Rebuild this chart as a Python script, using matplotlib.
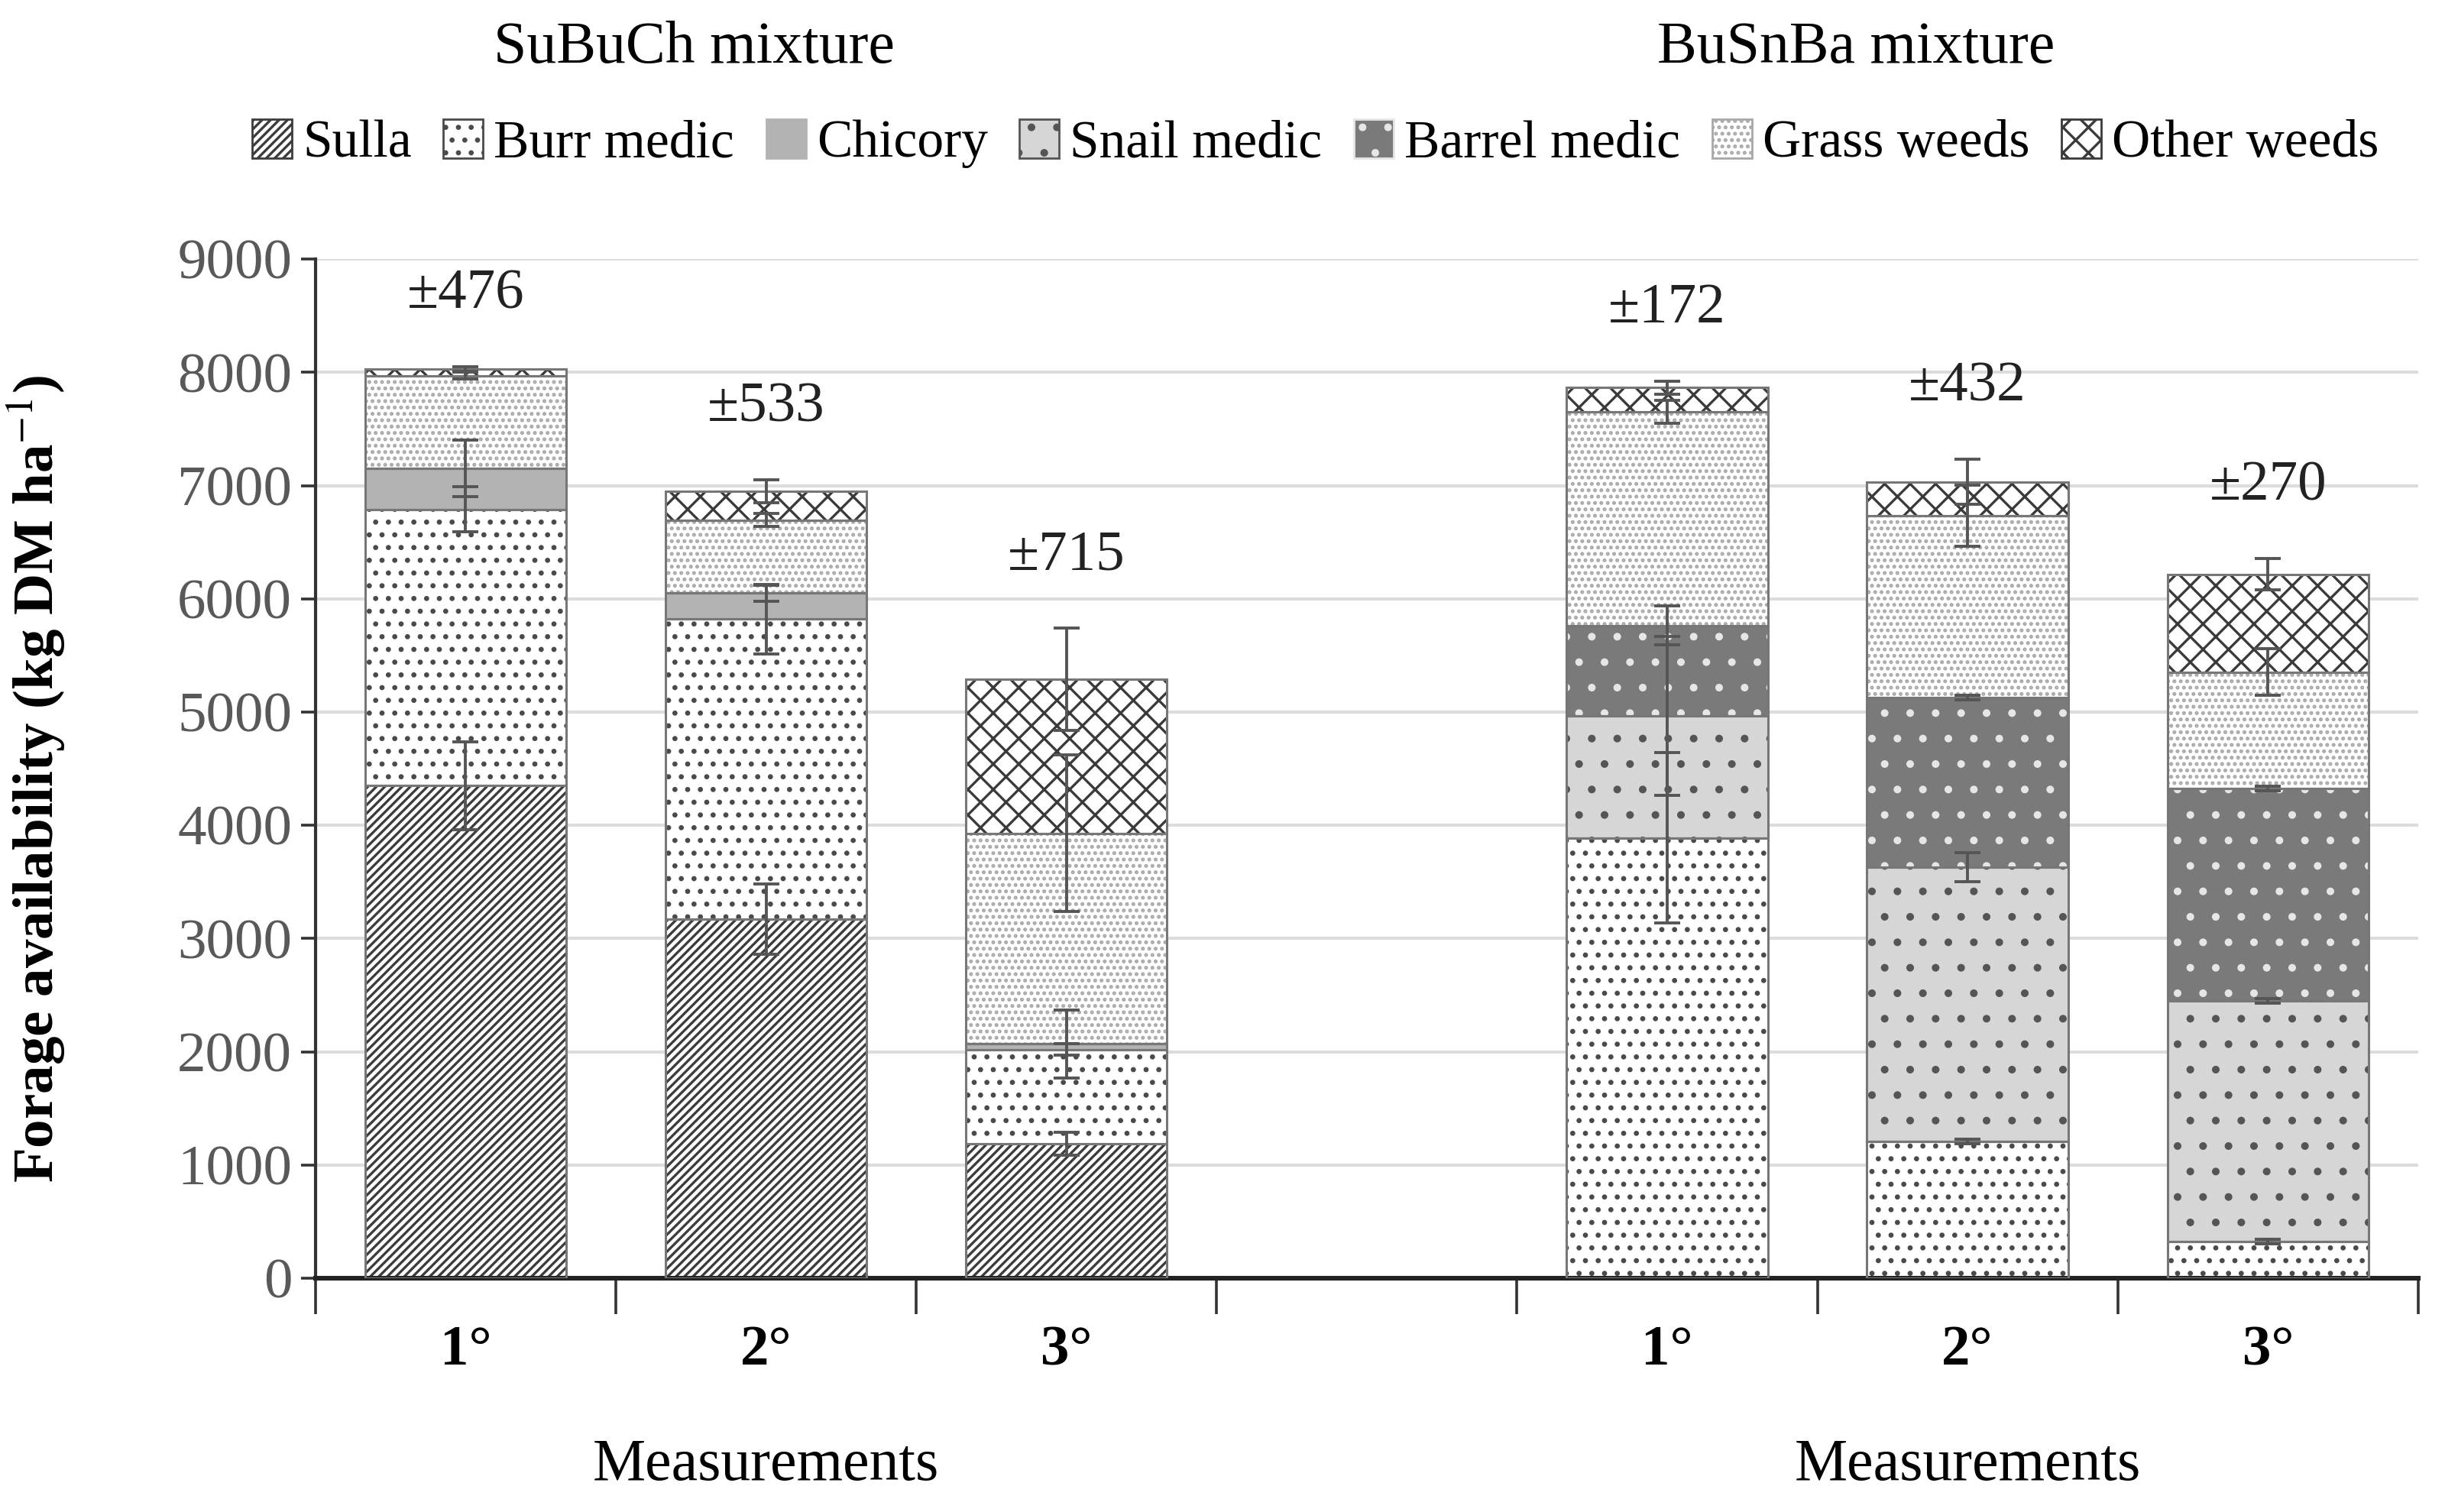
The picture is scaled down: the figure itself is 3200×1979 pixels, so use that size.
import numpy as np
import matplotlib.pyplot as plt
from matplotlib.patches import Patch
from matplotlib.transforms import blended_transform_factory

plt.rcParams['font.family'] = ['Liberation Serif', 'DejaVu Serif']
plt.rcParams['mathtext.fontset'] = 'stix'
plt.rcParams['hatch.linewidth'] = 1.2

# data (kg DM/ha)
measurements = ['1°', '2°', '3°', '1°', '2°', '3°']
positions = [0, 1, 2, 4, 5, 6]
species = ['Sulla', 'Burr medic', 'Chicory', 'Snail medic', 'Barrel medic',
           'Grass weeds', 'Other weeds']

sulla = [4350, 3170, 1190, 0, 0, 0]
burr = [2440, 2650, 830, 3890, 1205, 327]
chicory = [365, 230, 50, 0, 0, 0]
snail = [0, 0, 0, 1075, 2427, 2120]
barrel = [0, 0, 0, 800, 1495, 1876]
grass = [815, 647, 1860, 1887, 1604, 1029]
other = [60, 255, 1360, 213, 303, 866]

sulla_se = [390, 310, 100, 0, 0, 0]
burr_se = [200, 310, 50, 750, 20, 20]
chicory_se = [250, 70, 300, 0, 0, 0]
snail_se = [0, 0, 0, 700, 127, 20]
barrel_se = [0, 0, 0, 170, 20, 20]
grass_se = [30, 60, 690, 100, 270, 205]
other_se = [20, 100, 450, 60, 200, 140]

total_se = ['±476', '±533', '±715', '±172', '±432', '±270']
groups = ['SuBuCh mixture', 'BuSnBa mixture']

values = [sulla, burr, chicory, snail, barrel, grass, other]
errors = [sulla_se, burr_se, chicory_se, snail_se, barrel_se, grass_se, other_se]

# look of each species: face colour, hatch, hatch colour
faces = ['white', 'white', '#b3b3b3', '#d6d6d6', '#7a7a7a', 'white', 'white']
hatches = ['//////', '..', '', '.', '.', '....', 'xx']
hatch_cols = ['#3c3c3c', '#4a4a4a', '#b3b3b3', '#555555', '#e6e6e6', '#a8a8a8', '#3a3a3a']

fig = plt.figure(figsize=(16, 9.895), dpi=200)
ax = fig.add_axes([0.129, 0.1546, 0.86, 0.674])

x = np.array(positions)
bottoms = np.zeros(len(x))
cap_tops = np.zeros(len(x))
for vals, errs, face, hatch, hcol in zip(values, errors, faces, hatches, hatch_cols):
    vals = np.array(vals, dtype=float)
    errs = np.array(errs, dtype=float)
    ax.bar(x, vals, 0.67, bottom=bottoms, color=face, edgecolor=hcol,
           hatch=hatch, linewidth=0, zorder=2)
    ax.bar(x, vals, 0.67, bottom=bottoms, fill=False, edgecolor='#777777',
           linewidth=1.1, zorder=3)
    tops = bottoms + vals
    m = vals > 0
    ax.errorbar(x[m], tops[m], yerr=errs[m], fmt='none', ecolor='#555555',
                elinewidth=1.4, capsize=6, capthick=1.4, zorder=4)
    cap_tops = np.where(m, np.maximum(cap_tops, tops + errs), cap_tops)
    bottoms = tops

for xi, yi, lab in zip(x, cap_tops, total_se):
    ax.annotate(lab, (xi, yi), xytext=(0, 34), textcoords='offset points',
                ha='center', va='center', fontsize=27, color='#222222')

ax.set_xlim(-0.5, 6.5)
ax.set_ylim(0, 9000)
ax.set_yticks(range(0, 9001, 1000))
ax.yaxis.grid(True, color='#dcdcdc', linewidth=1.5)
ax.set_axisbelow(True)

ax.set_xticks(np.arange(-0.5, 7, 1))
ax.set_xticklabels([])
ax.set_xticks(positions, minor=True)
ax.set_xticklabels(measurements, minor=True, fontsize=27, fontweight='bold')
ax.tick_params(axis='x', which='major', length=17, width=1.3, color='#333333')
ax.tick_params(axis='x', which='minor', length=0, pad=22)
ax.tick_params(axis='y', length=7, width=1.3, color='#333333',
               labelsize=27, labelcolor='#595959', pad=4)

for s in ['top', 'right']:
    ax.spines[s].set_visible(False)
ax.spines['left'].set_color('#333333')
ax.spines['left'].set_linewidth(1.5)
ax.spines['bottom'].set_color('#222222')
ax.spines['bottom'].set_linewidth(2.2)

ax.set_ylabel(r'Forage availability (kg DM ha$^{-1}$)', fontsize=27,
              fontweight='bold')
ax.yaxis.set_label_coords(-0.118, 0.49)

trans = blended_transform_factory(ax.transData, ax.transAxes)
ax.text(positions[1], -0.184, 'Measurements', transform=trans, ha='center',
        va='center', fontsize=28)
ax.text(positions[4], -0.184, 'Measurements', transform=trans, ha='center',
        va='center', fontsize=28)

fig.text(0.284, 0.968, groups[0], ha='center', va='center', fontsize=28)
fig.text(0.759, 0.968, groups[1], ha='center', va='center', fontsize=28)

handles = [Patch(facecolor=f, edgecolor=c, hatch=h, linewidth=1.0)
           for f, h, c in zip(faces, hatches, hatch_cols)]
fig.legend(handles, species, loc='center', bbox_to_anchor=(0.538, 0.905),
           ncol=7, frameon=False, fontsize=25, handlelength=0.75,
           handleheight=0.75, handletextpad=0.2, columnspacing=0.6)

fig.savefig('out.png', dpi=200)
